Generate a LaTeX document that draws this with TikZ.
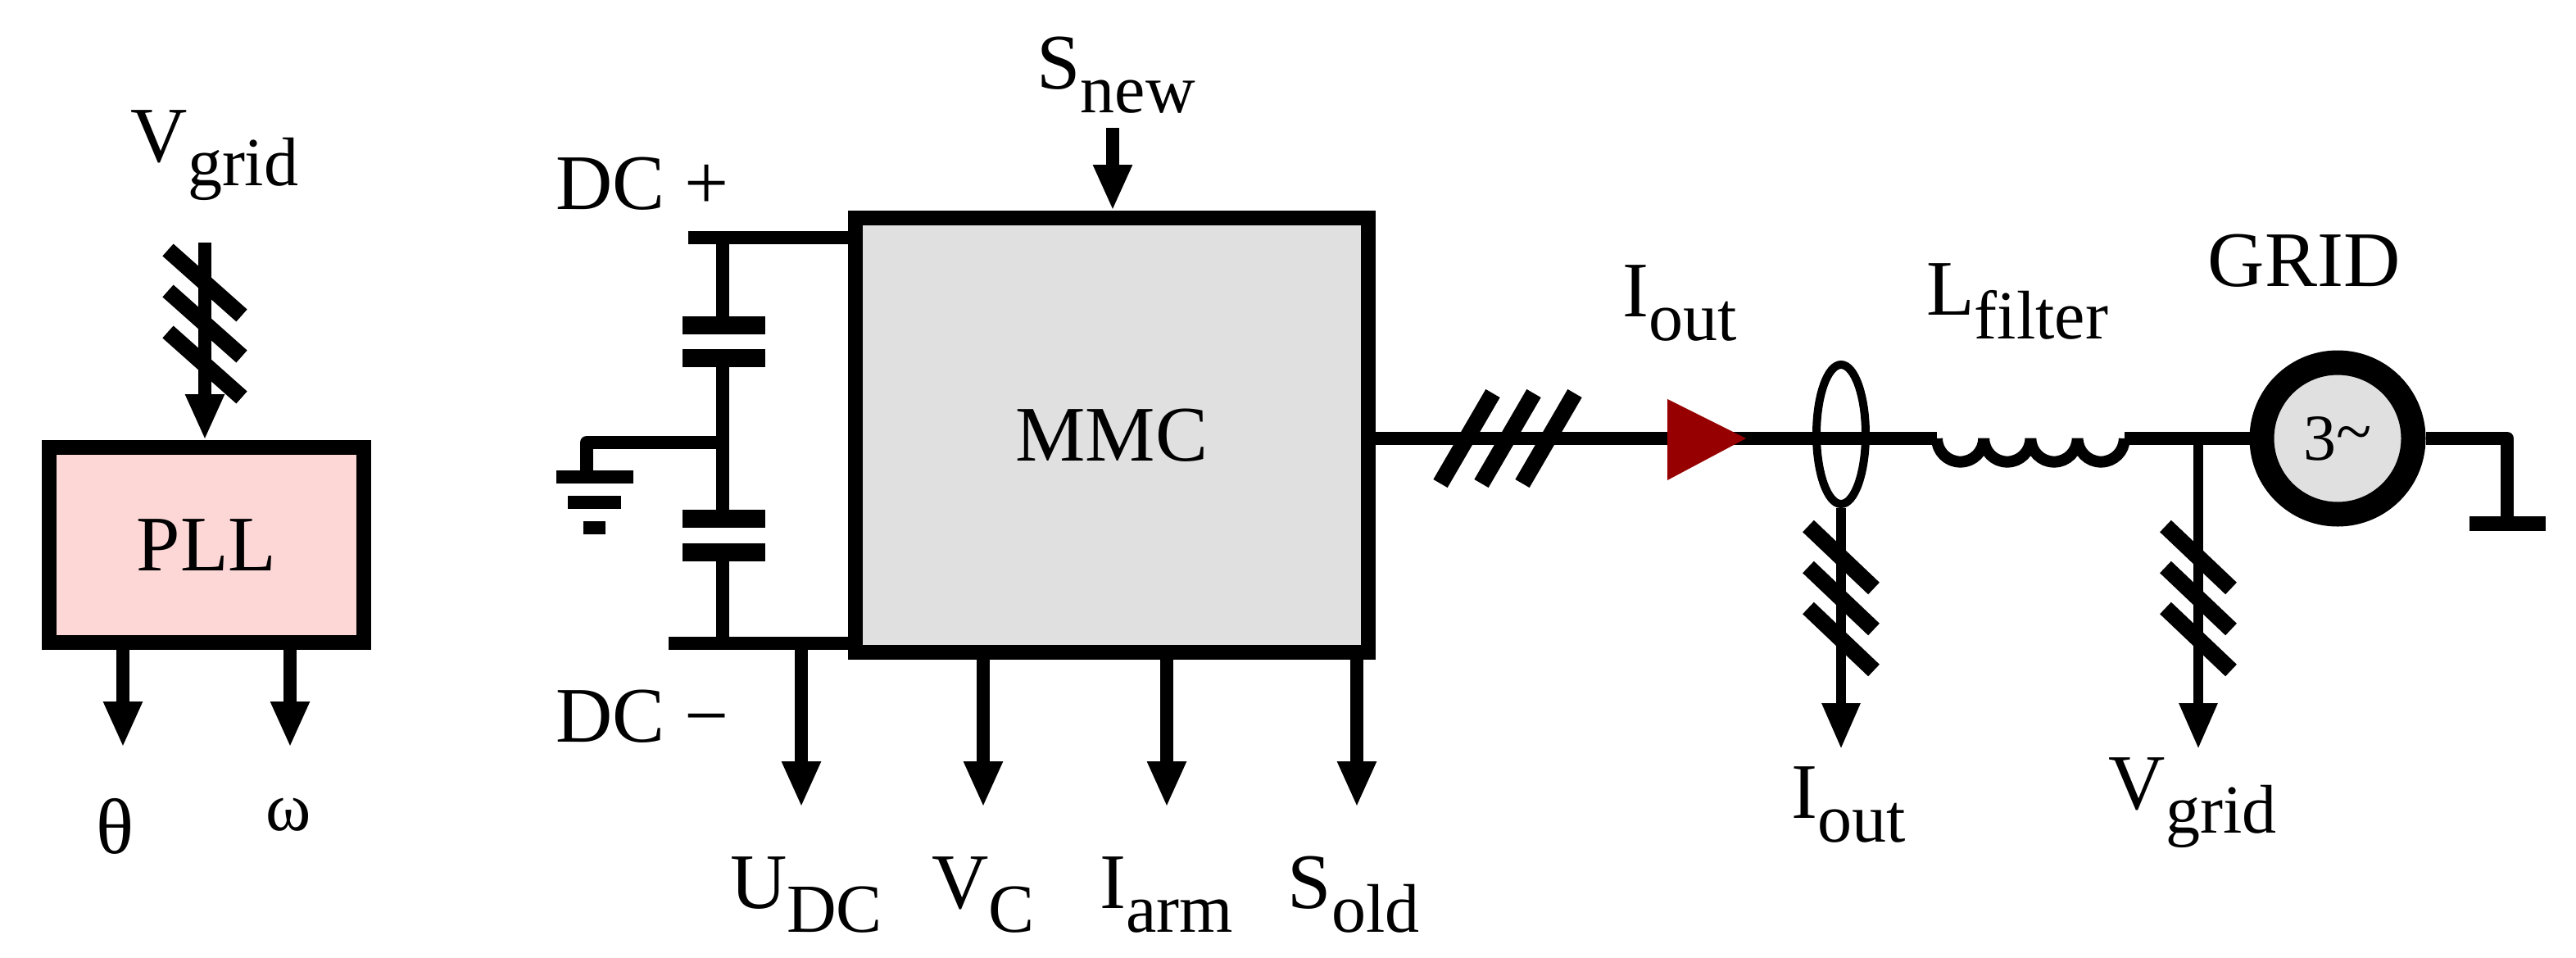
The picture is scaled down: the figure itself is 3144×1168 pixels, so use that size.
\documentclass[tikz,border=0pt]{standalone}
\usepackage{fontspec}
\setmainfont{Liberation Serif}
\usetikzlibrary{arrows.meta,shapes.geometric}
\definecolor{pllpink}{RGB}{253,214,214}
\definecolor{boxgray}{RGB}{224,224,224}
\definecolor{darkred}{RGB}{150,0,0}
\newcommand\lsub[1]{\raisebox{-0.3em}{\fontsize{42}{42}\selectfont #1}}
\begin{document}
\begin{tikzpicture}[x=0.5pt,y=-0.5pt,
  wire/.style={line width=8pt},
  arr/.style={line width=8pt,-{Triangle[length=28pt,width=22pt]}},
  slash/.style={line width=10pt},
  lbl/.style={font=\fontsize{48}{48}\selectfont,inner sep=0pt},
  blk/.style={draw,line width=9pt,inner sep=0pt}]
\useasboundingbox (0,0) rectangle (3144,1168);
% PLL
\node[blk,fill=pllpink,minimum width=384*0.5pt,minimum height=238*0.5pt,lbl] (pll) at (252,665) {PLL};
\node[lbl] (vg1) at (262,190) {V\lsub{grid}};
\coordinate (vg1s) at (250,296);
\draw[arr] (vg1s) -- (pll.north -| vg1s);
\foreach \y in {345,395,445} \draw[slash] (205,\y-40) -- (295,\y+40);
\coordinate (t1) at (150,912); \coordinate (w1) at (354,912);
\draw[arr] (pll.south -| t1) -- (t1);
\draw[arr] (pll.south -| w1) -- (w1);
\node[lbl] (th) at (140,1008) {θ};
\node[lbl,font=\fontsize{42}{42}\selectfont] (om) at (352,994) {ω};
% MMC
\node[blk,fill=boxgray,minimum width=626*0.5pt,minimum height=530*0.5pt,lbl] (mmc) at (1357,531) {MMC};
\node[lbl] (sn) at (1362,92) {S\lsub{new}};
\coordinate (sns) at (1358,156);
\draw[arr] (sns) -- (mmc.north -| sns);
\node[lbl] (dcp) at (784,224) {DC +};
\node[lbl] (dcm) at (784,874) {DC −};
% capacitors
\coordinate (bt) at (840,290); \coordinate (bb) at (816,785);
\draw[wire] (bt) -- (bt -| mmc.west);
\draw[wire] (bb) -- (bb -| mmc.west);
\draw[wire] (882,290) -- (882,397);
\draw[wire] (882,437) -- (882,633);
\draw[wire] (882,674) -- (882,785);
\foreach \y in {397,437,633,674} \fill (833,\y-11) rectangle (934,\y+11);
\draw[wire,line join=round] (882,540) -- (716,540) -- (716,582);
\fill (679,574) rectangle (773,590);
\fill (693,605) rectangle (758,621);
\fill (712,636) rectangle (739,652);
% bottom outputs
\coordinate (ud) at (978,985); \coordinate (vc) at (1200,985);
\coordinate (ia) at (1424,985); \coordinate (so) at (1656,985);
\draw[arr] (978,785) -- (ud);
\draw[arr] (mmc.south -| vc) -- (vc);
\draw[arr] (mmc.south -| ia) -- (ia);
\draw[arr] (mmc.south -| so) -- (so);
\node[lbl] (lud) at (984,1092) {U\lsub{DC}};
\node[lbl] (lvc) at (1200,1092) {V\lsub{C}};
\node[lbl] (lia) at (1424,1092) {I\lsub{arm}};
\node[lbl] (lso) at (1652,1092) {S\lsub{old}};
% AC line
\coordinate (ind1) at (2364,535); \coordinate (ind2) at (2593,535);
\node[circle,draw,line width=15pt,fill=boxgray,minimum size=185*0.5pt,inner sep=0pt,font=\fontsize{40}{40}\selectfont] (grid) at (2853,535) {3\raisebox{0.1em}{\textasciitilde}};
\coordinate (gr) at (3060,535); \coordinate (gb) at (3060,639);
\draw[wire] (mmc.east |- ind1) -- (ind1);
\draw[wire] (ind2) -- (grid.west);
\draw[wire,line join=round] (grid.east) -- (gr) -- (gb);
\fill (3014,630) rectangle (3107,648);
\draw[line width=7pt] (ind1) \foreach \i in {0,1,2,3} {arc[start angle=180,end angle=0,radius=28.6]};
\foreach \x in {1790,1840,1890} \draw[slash] (\x-32,590) -- (\x+32,480);
\fill[darkred] (2035,487) -- (2131,535) -- (2035,586) -- cycle;
% CT
\node[draw,ellipse,line width=5pt,minimum width=60*0.5pt,minimum height=170*0.5pt,inner sep=0pt] (ct) at (2247,530) {};
\coordinate (mi) at (2247,914);
\draw[arr,line width=6pt] (ct.south) -- (mi);
\foreach \y in {680,730,780} \draw[slash] (2207,\y-38) -- (2287,\y+38);
\node[lbl] (li) at (2256,982) {I\lsub{out}};
% voltage measurement
\coordinate (mvs) at (2683,535); \coordinate (mv) at (2683,914);
\draw[arr,line width=6pt] (mvs) -- (mv);
\foreach \y in {680,730,780} \draw[slash] (2643,\y-38) -- (2723,\y+38);
\node[lbl] (lvg) at (2676,980) {V\lsub{grid}};
% top labels
\node[lbl] (lio) at (2050,370) {I\lsub{out}};
\node[lbl] (llf) at (2462,368) {L\lsub{filter}};
\node[lbl] (lgr) at (2812,318) {GRID};
\end{tikzpicture}
\end{document}
